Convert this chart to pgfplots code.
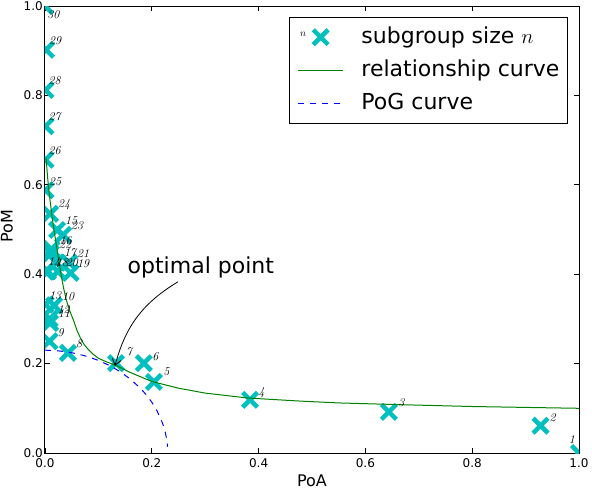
\documentclass[border=0pt]{standalone}
\usepackage[no-math]{fontspec}
\setmainfont{DejaVu Sans}
\usepackage{pgfplots}
\usepackage{pgfplotstable}
\pgfplotsset{compat=1.18}
\usetikzlibrary{arrows.meta}

\definecolor{mplcyan}{rgb}{0,0.75,0.75}
\definecolor{mplgreen}{rgb}{0,0.5,0}
\definecolor{mplblue}{rgb}{0,0,1}

% legend images: 45pt sample plus 18pt gap before the text
\pgfplotsset{
  markleg/.style={legend image code/.code={
    \path[draw=none, fill=none] (0pt,-4pt) rectangle (63.3pt,4pt);
    \draw[mark repeat=2,mark phase=2,##1] plot coordinates {(0pt,0pt) (22.5pt,0pt) (45pt,0pt)};
    \node[black, draw=none, fill=none, inner sep=0pt, text height=4.3pt, text depth=0pt,
      anchor=center, font=\fontsize{10}{12}\selectfont] at (5pt,2.5pt) {$n$};
  }},
  lineleg/.style={legend image code/.code={
    \path[draw=none, fill=none] (0pt,-4pt) rectangle (63.3pt,4pt);
    \draw[##1] (0pt,0pt) -- (45pt,0pt);
  }},
}

% PoA / PoM for every subgroup size n
\pgfplotstableread{
n  poa     pom
1  1.000   0.000
2  0.928   0.061
3  0.644   0.092
4  0.384   0.119
5  0.204   0.159
6  0.185   0.201
7  0.133   0.201
8  0.043   0.224
9  0.0085  0.250
10 0.017   0.330
11 0.0095  0.291
12 0.0085  0.300
13 0.001   0.332
14 0.001   0.406
15 0.0226  0.499
16 0.012   0.456
17 0.0207  0.426
18 0.0057  0.406
19 0.048   0.403
20 0.024   0.406
21 0.045   0.426
22 0.011   0.446
23 0.034   0.488
24 0.0095  0.535
25 0.001   0.588
26 0.001   0.656
27 0.001   0.731
28 0.001   0.812
29 0.002   0.902
30 0.000   1.000
}\subgroups

% relationship curve
\pgfplotstableread{
poa    pom
0.002  0.660
0.005  0.615
0.008  0.580
0.012  0.540
0.016  0.505
0.020  0.475
0.025  0.437
0.030  0.400
0.035  0.368
0.040  0.342
0.047  0.316
0.053  0.298
0.060  0.274
0.066  0.258
0.072  0.245
0.080  0.233
0.090  0.221
0.100  0.212
0.115  0.204
0.133  0.196
0.160  0.180
0.200  0.160
0.250  0.145
0.300  0.134
0.380  0.123
0.480  0.116
0.550  0.112
0.670  0.108
0.800  0.104
0.900  0.102
1.000  0.100
}\relcurve

% PoG curve
\pgfplotstableread{
poa     pom
0.000   0.2300
0.020   0.2291
0.040   0.2265
0.060   0.2220
0.080   0.2156
0.100   0.2071
0.120   0.1962
0.140   0.1825
0.160   0.1652
0.180   0.1432
0.190   0.1296
0.200   0.1136
0.210   0.0938
0.220   0.0671
0.225   0.0477
0.228   0.0303
0.2296  0.0140
}\pogcurve

\newcommand{\lbl}{\fontsize{12.5}{14}\selectfont}

\begin{document}
\begin{tikzpicture}
\useasboundingbox (-45pt,-38pt) rectangle (547pt,453pt);
\begin{axis}[
  scale only axis,
  width=534pt, height=447pt,
  xmin=0, xmax=1, ymin=0, ymax=1,
  axis line style={line width=1pt},
  tick align=inside,
  tick pos=both,
  xticklabel pos=bottom, yticklabel pos=left,
  major tick length=5pt,
  every tick/.style={black, line width=0.8pt},
  xtick={0,0.2,0.4,0.6,0.8,1},
  ytick={0,0.2,0.4,0.6,0.8,1},
  xticklabels={0.0,0.2,0.4,0.6,0.8,1.0},
  yticklabels={0.0,0.2,0.4,0.6,0.8,1.0},
  xticklabel style={font=\fontsize{12}{14}\selectfont, inner sep=0pt, anchor=north, yshift=-5pt},
  yticklabel style={font=\fontsize{12}{14}\selectfont, inner sep=0pt, anchor=east, xshift=-2pt},
  xlabel={PoA}, ylabel={PoM},
  every axis x label/.style={at={(axis description cs:0.5,-0.0626)}, anchor=center, font=\fontsize{16}{19}\selectfont},
  every axis y label/.style={at={(axis description cs:-0.0712,0.508)}, anchor=center, rotate=90, font=\fontsize{16}{19}\selectfont},
  clip marker paths=true,
  legend style={at={(1,1)}, anchor=north east, xshift=-10.7pt, yshift=-10.7pt,
    draw=black, line width=1pt, fill=white, inner xsep=8.4pt, inner ysep=9pt,
    font=\fontsize{22}{26}\selectfont, row sep=11pt,
    nodes={inner sep=0pt, text height=17pt, text depth=5pt}},
  legend cell align=left,
]
\addplot[only marks, mark=x, mark size=10.5pt, mplcyan,
  mark options={line width=4.5pt}, markleg]
  table[x=poa, y=pom] {\subgroups};
\addlegendentry{subgroup size $n$}

\addplot[mplgreen, line width=1pt, mark=none, lineleg]
  table[x=poa, y=pom] {\relcurve};
\addlegendentry{relationship curve}

\addplot[mplblue, line width=1pt, mark=none, dash pattern=on 6pt off 6pt, lineleg]
  table[x=poa, y=pom] {\pogcurve};
\addlegendentry{PoG curve}

% subgroup size labels
\begin{scope}[every node/.style={inner sep=0pt, anchor=center, font=\lbl}]
\node at (axis cs:0.988,0.029) {$\mathit{1}$};
\node at (axis cs:0.952,0.080) {$\mathit{2}$};
\node at (axis cs:0.669,0.113) {$\mathit{3}$};
\node at (axis cs:0.407,0.135) {$\mathit{4}$};
\node at (axis cs:0.229,0.181) {$\mathit{5}$};
\node at (axis cs:0.208,0.215) {$\mathit{6}$};
\node at (axis cs:0.159,0.225) {$\mathit{7}$};
\node at (axis cs:0.0655,0.244) {$\mathit{8}$};
\node at (axis cs:0.031,0.270) {$\mathit{9}$};
\node at (axis cs:0.045,0.350) {$\mathit{10}$};
\node at (axis cs:0.0375,0.311) {$\mathit{11}$};
\node at (axis cs:0.0365,0.320) {$\mathit{12}$};
\node at (axis cs:0.0206,0.352) {$\mathit{13}$};
\node at (axis cs:0.0187,0.426) {$\mathit{14}$};
\node at (axis cs:0.0506,0.519) {$\mathit{15}$};
\node at (axis cs:0.040,0.476) {$\mathit{16}$};
\node at (axis cs:0.0487,0.446) {$\mathit{17}$};
\node at (axis cs:0.0337,0.426) {$\mathit{18}$};
\node at (axis cs:0.073,0.424) {$\mathit{19}$};
\node at (axis cs:0.052,0.425) {$\mathit{20}$};
\node at (axis cs:0.073,0.446) {$\mathit{21}$};
\node at (axis cs:0.039,0.466) {$\mathit{22}$};
\node at (axis cs:0.0618,0.508) {$\mathit{23}$};
\node at (axis cs:0.0375,0.555) {$\mathit{24}$};
\node at (axis cs:0.0206,0.608) {$\mathit{25}$};
\node at (axis cs:0.0197,0.676) {$\mathit{26}$};
\node at (axis cs:0.0197,0.751) {$\mathit{27}$};
\node at (axis cs:0.0197,0.832) {$\mathit{28}$};
\node at (axis cs:0.0206,0.922) {$\mathit{29}$};
\node at (axis cs:0.017,0.980) {$\mathit{30}$};
\end{scope}

\node[inner sep=0pt, anchor=center, font=\fontsize{22}{26}\selectfont]
  at (axis cs:0.2918,0.415) {optimal point};
\draw[line width=0.8pt, -{Straight Barb[length=6pt,width=9pt]}]
  (axis cs:0.249,0.383) to[bend right=22] (axis cs:0.131,0.195);
\end{axis}
\end{tikzpicture}
\end{document}
